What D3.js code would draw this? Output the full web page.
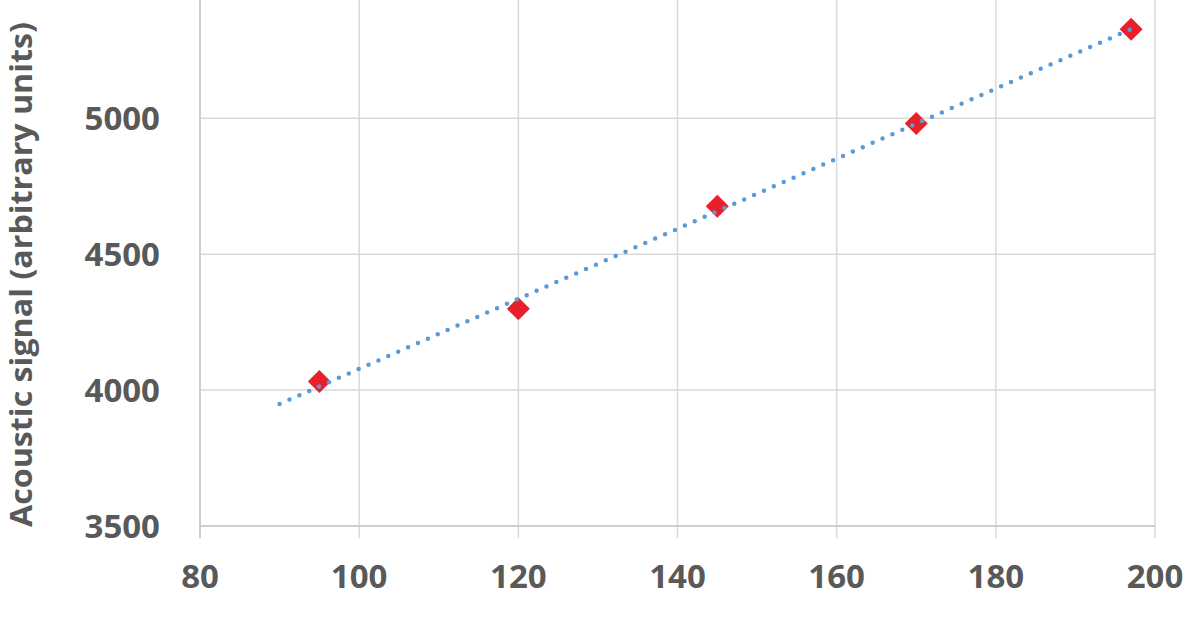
<!DOCTYPE html>
<html>
<head>
<meta charset="utf-8">
<script src="https://cdn.jsdelivr.net/npm/d3@7"></script>
<style>
  body { margin: 0; background: #fff; }
  svg { display: block; }
</style>
</head>
<body>
<svg id="chart"></svg>
<script>
// measured points (x, acoustic signal)
const xValues = [95, 120, 145, 170, 197]
const signalValues = [4032, 4299, 4676, 4981, 5328]

const xTicks = [80, 100, 120, 140, 160, 180, 200]
const yTicks = [3500, 4000, 4500, 5000, 5500]
const trendRange = [90, 198]

const yTitle = 'Acoustic signal (arbitrary units)'

const svgWidth = 1200
const svgHeight = 630

const textColor = '#595959'
const gridColor = '#d9d9d9'
const markerColor = '#e8202a'
const trendColor = '#5b9bd5'

const svg = d3.select('#chart')
    .attr('width', svgWidth)
    .attr('height', svgHeight)

const x = d3.scaleLinear().domain([80, 200]).range([200, 1155])
const y = d3.scaleLinear().domain([3500, 5500]).range([526, -17.6])

// horizontal gridlines
svg.append('g')
    .selectAll('line')
    .data(yTicks)
    .join('line')
    .attr('x1', x(80))
    .attr('x2', x(200))
    .attr('y1', d => y(d))
    .attr('y2', d => y(d))
    .attr('stroke', gridColor)
    .attr('stroke-width', 1.5)

// vertical gridlines (extend below the axis as tick marks)
svg.append('g')
    .selectAll('line')
    .data(xTicks)
    .join('line')
    .attr('x1', d => x(d))
    .attr('x2', d => x(d))
    .attr('y1', y(5500))
    .attr('y2', y(3500) + 12)
    .attr('stroke', gridColor)
    .attr('stroke-width', 1.5)

// axis lines slightly darker
svg.append('line')
    .attr('x1', x(80)).attr('x2', x(200))
    .attr('y1', y(3500)).attr('y2', y(3500))
    .attr('stroke', '#c8c8c8').attr('stroke-width', 1.5)
svg.append('line')
    .attr('x1', x(80)).attr('x2', x(80))
    .attr('y1', y(5500)).attr('y2', y(3500) + 12)
    .attr('stroke', '#c8c8c8').attr('stroke-width', 1.5)

// tick labels
svg.append('g')
    .selectAll('text')
    .data(xTicks)
    .join('text')
    .attr('x', d => x(d))
    .attr('y', 588)
    .attr('text-anchor', 'middle')
    .attr('font-family', 'Open Sans')
    .attr('font-weight', 'bold')
    .attr('font-size', '33px')
    .attr('fill', textColor)
    .text(d => d)

// the top tick (5500) sits above the visible area, so it gets no label
svg.append('g')
    .selectAll('text')
    .data(yTicks.filter(d => y(d) > 0))
    .join('text')
    .attr('x', 160)
    .attr('y', d => y(d) + 12)
    .attr('text-anchor', 'end')
    .attr('font-family', 'Open Sans')
    .attr('font-weight', 'bold')
    .attr('font-size', '33px')
    .attr('fill', textColor)
    .text(d => d)

// y axis title
svg.append('text')
    .attr('transform', 'translate(32,527) rotate(-90)')
    .attr('font-family', 'Open Sans')
    .attr('font-weight', 'bold')
    .attr('font-size', '31px')
    .attr('fill', textColor)
    .attr('textLength', 505)
    .attr('lengthAdjust', 'spacingAndGlyphs')
    .text(yTitle)

// markers
const points = xValues.map((v, i) => ({ x: v, y: signalValues[i] }))
const diamond = d3.symbol().type(d3.symbolSquare).size(265)

svg.append('g')
    .selectAll('path')
    .data(points)
    .join('path')
    .attr('d', diamond)
    .attr('transform', d => `translate(${x(d.x)},${y(d.y)}) rotate(45)`)
    .attr('fill', markerColor)

// linear trendline (least squares fit of the points)
const mx = d3.mean(xValues)
const my = d3.mean(signalValues)
const slope = d3.sum(points, p => (p.x - mx) * (p.y - my)) / d3.sum(points, p => (p.x - mx) ** 2)
const intercept = my - slope * mx

const line = d3.line()
    .x(d => x(d))
    .y(d => y(intercept + slope * d))

svg.append('path')
    .datum(trendRange)
    .attr('d', line)
    .attr('fill', 'none')
    .attr('stroke', trendColor)
    .attr('stroke-width', 4.5)
    .attr('stroke-linecap', 'round')
    .attr('stroke-dasharray', '0 10.8')
</script>
</body>
</html>
